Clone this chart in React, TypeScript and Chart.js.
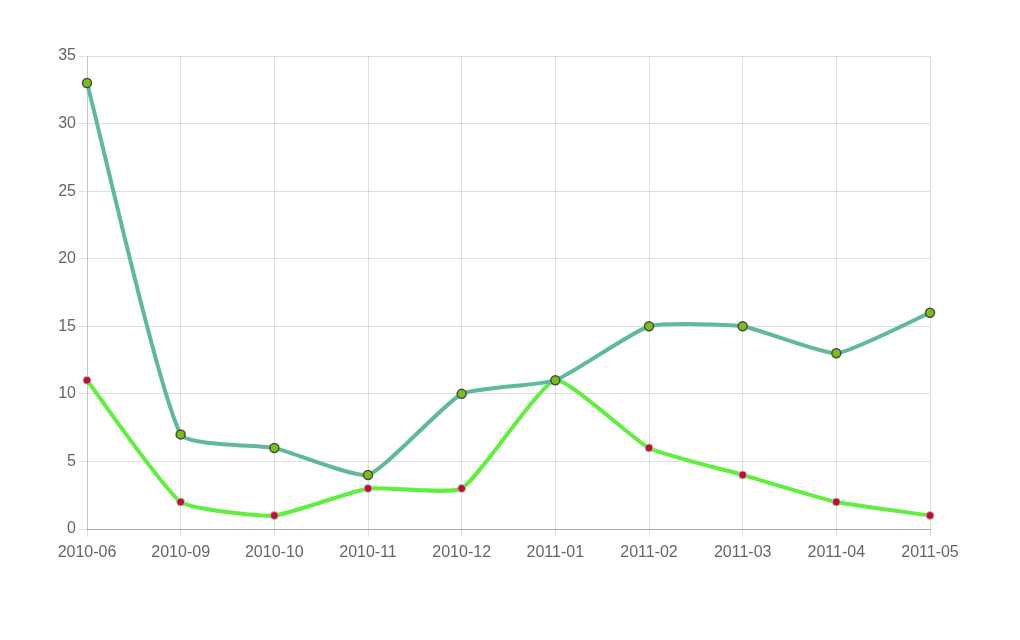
import React, {useEffect, useRef} from "react";
import {Chart} from 'chart.js/auto';

const months = ['2010-06', '2010-09', '2010-10', '2010-11', '2010-12', '2011-01', '2011-02', '2011-03', '2011-04', '2011-05'];
const tealValues = [33, 7, 6, 4, 10, 11, 15, 15, 13, 16];
const greenValues = [11, 2, 1, 3, 3, 11, 6, 4, 2, 1];

const LineChart: React.FC = () => {
    const canvasRef = useRef<HTMLCanvasElement>(null);

    useEffect(() => {
        if (canvasRef.current) {
            const ctx = canvasRef.current.getContext('2d');
            if (ctx) {
                Chart.defaults.font.family = 'Arial, "Liberation Sans", sans-serif';
                Chart.defaults.font.size = 16;
                Chart.defaults.color = '#666';
                const chart = new Chart(ctx, {
                    type: 'line',
                    data: {
                        labels: months,
                        datasets: [
                            {
                                label: 'A',
                                data: tealValues,
                                borderColor: '#5fb8a0',
                                borderWidth: 4,
                                backgroundColor: '#7cbf14',
                                pointBackgroundColor: '#7cbf14',
                                pointBorderColor: '#4a4a4a',
                                pointBorderWidth: 1.5,
                                pointRadius: 4.5,
                                tension: 0.15,
                                fill: false,
                            },
                            {
                                label: 'B',
                                data: greenValues,
                                borderColor: '#5ef03c',
                                borderWidth: 4,
                                backgroundColor: '#d1004f',
                                pointBackgroundColor: '#d1004f',
                                pointBorderColor: '#8ee87a',
                                pointBorderWidth: 1,
                                pointRadius: 4,
                                tension: 0.15,
                                fill: false,
                            },
                        ],
                    },
                    options: {
                        animation: false,
                        responsive: false,
                        layout: {
                            padding: {left: 0, top: 48, right: 82, bottom: 63}
                        },
                        scales: {
                            x: {
                                grid: {color: 'rgba(0,0,0,0.12)'},
                                border: {color: '#aaa'},
                                ticks: {maxRotation: 0, autoSkip: false, padding: 6},
                                afterFit: (scale: any) => {
                                    scale.height = 40;
                                },
                            },
                            y: {
                                min: 0,
                                max: 35,
                                grid: {color: 'rgba(0,0,0,0.12)'},
                                border: {color: 'rgba(0,0,0,0.12)'},
                                ticks: {stepSize: 5},
                                afterFit: (scale: any) => {
                                    scale.width = 79;
                                },
                            },
                        },
                        plugins: {
                            legend: {display: false},
                            tooltip: {enabled: false},
                        },
                    },
                });

                return () => {
                    chart.destroy();
                };
            }
        }
    }, []);

    return <canvas ref={canvasRef} width={1004} height={624}></canvas>;
};

export default function App() {
    return <LineChart/>;
}
